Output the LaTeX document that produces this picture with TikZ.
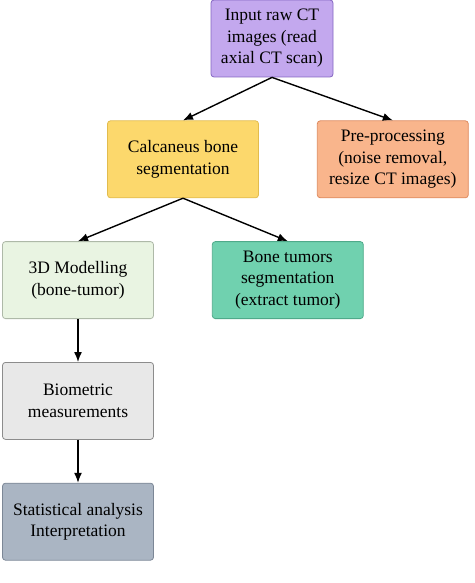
\documentclass[tikz,border=0pt]{standalone}
\usepackage{fontspec}
\setmainfont{Liberation Serif}
\usepackage{tikz}
\usetikzlibrary{arrows.meta,positioning}
\definecolor{mycpurple}{HTML}{C3A8EE}
\definecolor{mycpurpled}{HTML}{8466C2}
\definecolor{mycyellow}{HTML}{FCD86C}
\definecolor{mycyellowd}{HTML}{E2BC4E}
\definecolor{mycorange}{HTML}{F9B58C}
\definecolor{mycoranged}{HTML}{DE8A5E}
\definecolor{myclgreen}{HTML}{E9F4E2}
\definecolor{myclgreend}{HTML}{AEB9A8}
\definecolor{mycteal}{HTML}{70D1AF}
\definecolor{myctealtwo}{HTML}{4FAA8A}
\definecolor{mycgrey}{HTML}{E8E8E8}
\definecolor{mycgreyd}{HTML}{8C8C8C}
\definecolor{mycslate}{HTML}{AAB5C3}
\definecolor{mycslated}{HTML}{7C8796}

\begin{document}
\begin{tikzpicture}[
 x=1pt,y=1pt,
 node distance=43pt and 58pt,
 b/.style={draw,rounded corners=3pt,line width=0.8pt,align=center,minimum width=151pt,minimum height=77pt,inner sep=2pt,font=\fontsize{17.5}{21.5}\selectfont},
 a/.style={-{Latex[length=10pt,width=8pt]},line width=1.4pt}
]
\useasboundingbox (0,0) rectangle (474,-583);
\node[b,minimum width=122pt,fill=mycpurple,draw=mycpurpled] (input) at (272,-38.5) {Input raw CT\\images (read\\axial CT scan)};
\node[b,below=of input,xshift=-89pt,fill=mycyellow,draw=mycyellowd] (calc) {Calcaneus bone\\segmentation};
\node[b,right=of calc,fill=mycorange,draw=mycoranged] (prep) {Pre-processing\\(noise removal,\\resize CT images)};
\node[b,below=of calc,xshift=-105pt,fill=myclgreen,draw=myclgreend] (model) {3D Modelling\\(bone-tumor)};
\node[b,right=of model,fill=mycteal,draw=myctealtwo] (tumor) {Bone tumors\\segmentation\\(extract tumor)};
\node[b,below=of model,fill=mycgrey,draw=mycgreyd] (bio) {Biometric\\measurements};
\node[b,below=of bio,fill=mycslate,draw=mycslated] (stat) {Statistical analysis\\Interpretation};
\draw[a] (input.south)--(calc.north);
\draw[a] (input.south)--(prep.north);
\draw[a] (calc.south)--(model.north);
\draw[a] (calc.south)--(tumor.north);
\draw[a] (model)--(bio);
\draw[a] (bio)--(stat);
\end{tikzpicture}
\end{document}
